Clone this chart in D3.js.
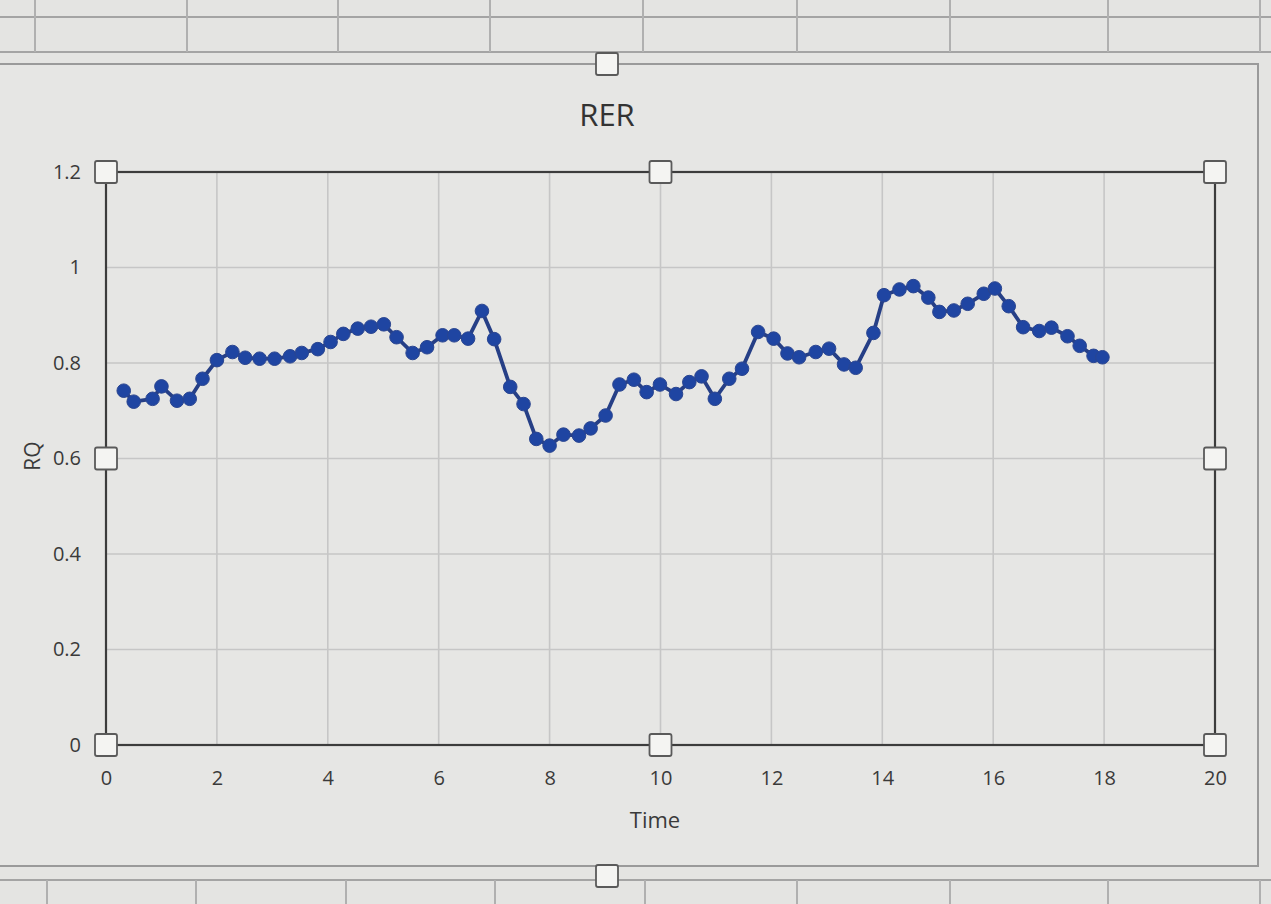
<!DOCTYPE html>
<html>
<head>
<meta charset="utf-8">
<script src="https://cdn.jsdelivr.net/npm/d3@7"></script>
<style>
  html, body { margin: 0; padding: 0; background: #e4e4e2; }
  svg { display: block; }
  text { font-family: "Open Sans", "Noto Sans", sans-serif; }
</style>
</head>
<body>
<svg id="chart" width="1271" height="904"></svg>
<script>
// ---- data ----
const timeValues = [0.32, 0.50, 0.84, 1.00, 1.28, 1.51, 1.74, 2.00, 2.28, 2.51,
  2.77, 3.04, 3.32, 3.53, 3.82, 4.05, 4.28, 4.54, 4.78, 5.01,
  5.24, 5.53, 5.79, 6.07, 6.28, 6.53, 6.78, 7.00, 7.29, 7.53,
  7.76, 8.00, 8.25, 8.53, 8.74, 9.01, 9.26, 9.52, 9.75, 9.99,
  10.28, 10.52, 10.74, 10.98, 11.24, 11.47, 11.76, 12.04, 12.29, 12.50,
  12.80, 13.04, 13.31, 13.52, 13.84, 14.03, 14.31, 14.56, 14.83, 15.03,
  15.29, 15.54, 15.83, 16.03, 16.28, 16.54, 16.83, 17.05, 17.34, 17.56,
  17.81, 17.97];
const rqValues = [0.742, 0.719, 0.725, 0.751, 0.721, 0.725, 0.767, 0.806, 0.823, 0.811,
  0.809, 0.809, 0.814, 0.821, 0.829, 0.844, 0.861, 0.872, 0.876, 0.881,
  0.854, 0.821, 0.833, 0.858, 0.858, 0.851, 0.909, 0.850, 0.750, 0.714,
  0.641, 0.627, 0.650, 0.648, 0.663, 0.690, 0.755, 0.765, 0.739, 0.755,
  0.735, 0.760, 0.772, 0.725, 0.767, 0.788, 0.865, 0.851, 0.820, 0.812,
  0.823, 0.830, 0.797, 0.790, 0.863, 0.942, 0.954, 0.961, 0.937, 0.907,
  0.910, 0.924, 0.945, 0.956, 0.919, 0.875, 0.867, 0.874, 0.856, 0.836,
  0.815, 0.812];
const xTicks = [0, 2, 4, 6, 8, 10, 12, 14, 16, 18, 20];
const yTicks = [0, 0.2, 0.4, 0.6, 0.8, 1.0, 1.2];
const chartTitle = "RER";
const xTitle = "Time";
const yTitle = "RQ";

const points = timeValues.map((t, i) => ({ t, v: rqValues[i] }));

const svg = d3.select("#chart");
const W = 1271, H = 904;

// ---- spreadsheet background ----
const sheet = svg.append("g");
sheet.append("rect").attr("width", W).attr("height", H).attr("fill", "#e4e4e2");
const topCols = [35, 187, 338, 490, 643, 797, 950, 1108, 1260];
const botCols = [47, 196, 346, 495, 645, 797, 950, 1108, 1260];
[17, 52].forEach(yy => sheet.append("line").attr("x1", 0).attr("x2", W)
  .attr("y1", yy).attr("y2", yy).attr("stroke", "#a4a4a4").attr("stroke-width", 2));
topCols.forEach(xx => sheet.append("line").attr("x1", xx).attr("x2", xx)
  .attr("y1", 0).attr("y2", 52).attr("stroke", "#b0b0b0").attr("stroke-width", 2));
sheet.append("line").attr("x1", 0).attr("x2", W).attr("y1", 880).attr("y2", 880)
  .attr("stroke", "#a4a4a4").attr("stroke-width", 2);
botCols.forEach(xx => sheet.append("line").attr("x1", xx).attr("x2", xx)
  .attr("y1", 880).attr("y2", H).attr("stroke", "#b0b0b0").attr("stroke-width", 2));

// chart area frame
sheet.append("rect").attr("x", -5).attr("y", 64).attr("width", 1263).attr("height", 802)
  .attr("fill", "#e6e6e4").attr("stroke", "#9a9a9a").attr("stroke-width", 2);

// ---- plot area ----
const plot = { left: 106, right: 1215, top: 172, bottom: 745 };
const x = d3.scaleLinear().domain([0, 20]).range([plot.left, plot.right]);
const y = d3.scaleLinear().domain([0, 1.2]).range([plot.bottom, plot.top]);

// gridlines
const grid = svg.append("g");
grid.selectAll("line.v").data(xTicks.slice(1, -1)).join("line")
  .attr("x1", d => x(d)).attr("x2", d => x(d))
  .attr("y1", plot.top).attr("y2", plot.bottom)
  .attr("stroke", "#c6c6c6").attr("stroke-width", 1.6);
grid.selectAll("line.h").data(yTicks.slice(1, -1)).join("line")
  .attr("x1", plot.left).attr("x2", plot.right)
  .attr("y1", d => y(d)).attr("y2", d => y(d))
  .attr("stroke", "#c6c6c6").attr("stroke-width", 1.6);

// axes via d3
const xAxis = svg.append("g").attr("transform", `translate(0,${plot.bottom})`)
  .call(d3.axisBottom(x).tickValues(xTicks).tickSize(0).tickPadding(26).tickFormat(d3.format("d")));
const yAxis = svg.append("g").attr("transform", `translate(${plot.left},0)`)
  .call(d3.axisLeft(y).tickValues(yTicks).tickSize(0).tickPadding(25).tickFormat(d => d === 0 ? "0" : d === 1 ? "1" : d3.format(".1f")(d)));
[xAxis, yAxis].forEach(a => {
  a.select(".domain").remove();
  a.selectAll("text").attr("fill", "#3a3a3a").attr("font-size", 20)
    .style("font-family", "'Open Sans', sans-serif");
});

// plot area selection outline
svg.append("rect").attr("x", plot.left).attr("y", plot.top)
  .attr("width", plot.right - plot.left).attr("height", plot.bottom - plot.top)
  .attr("fill", "none").attr("stroke", "#3c3c3c").attr("stroke-width", 2.2);

// series line + markers
const lineGen = d3.line().x(d => x(d.t)).y(d => y(d.v));
svg.append("path").datum(points).attr("d", lineGen)
  .attr("fill", "none").attr("stroke", "#263f86").attr("stroke-width", 3.8)
  .attr("stroke-linejoin", "round");
svg.append("g").selectAll("circle").data(points).join("circle")
  .attr("cx", d => x(d.t)).attr("cy", d => y(d.v)).attr("r", 6.8)
  .attr("fill", "#1f45a2").attr("stroke", "#2a4590").attr("stroke-width", 1);

// selection handles
const handle = (cx, cy) => svg.append("rect").attr("x", cx - 11).attr("y", cy - 11)
  .attr("width", 22).attr("height", 22).attr("rx", 2)
  .attr("fill", "#f4f4f2").attr("stroke", "#5a5a5a").attr("stroke-width", 1.8);
const midX = (plot.left + plot.right) / 2, midY = (plot.top + plot.bottom) / 2;
[[plot.left, plot.top], [midX, plot.top], [plot.right, plot.top],
 [plot.left, midY], [plot.right, midY],
 [plot.left, plot.bottom], [midX, plot.bottom], [plot.right, plot.bottom]]
  .forEach(([hx, hy]) => handle(hx, hy));
// chart-area handles
[[607, 64], [607, 876]].forEach(([hx, hy]) => handle(hx, hy));

// titles
svg.append("text").attr("x", 607).attr("y", 126).attr("text-anchor", "middle")
  .attr("font-size", 31).attr("fill", "#333").text(chartTitle);
svg.append("text").attr("x", 655).attr("y", 828).attr("text-anchor", "middle")
  .attr("font-size", 22).attr("fill", "#3a3a3a").text(xTitle);
svg.append("text").attr("transform", "translate(40,456) rotate(-90)")
  .attr("text-anchor", "middle").attr("font-size", 21).attr("fill", "#3a3a3a").text(yTitle);
</script>
</body>
</html>
